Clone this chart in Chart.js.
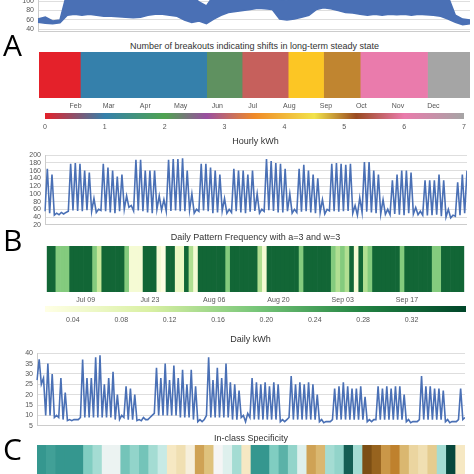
<!DOCTYPE html>
<html><head><meta charset="utf-8">
<script src="https://cdn.jsdelivr.net/npm/chart.js@4.4.0/dist/chart.umd.min.js"></script>
<style>
body{margin:0;width:474px;height:474px;overflow:hidden;background:#fff;position:relative;font-family:"Liberation Sans",Arial,sans-serif}
.b{position:absolute}
.t{position:absolute;font-size:9px;color:#333;text-align:center;white-space:nowrap}
.L{position:absolute;font-family:"Open Sans","Noto Sans",sans-serif;font-size:30px;color:#000}
</style></head><body>
<script>
// ---------- DATA ----------
// Panel A: annual hourly kWh (band lower/upper edges)
const aLow=[55,53,52,54,70,72,70,72,70,68,68,67,66,65,66,70,72,72,70,68,60,55,58,52,62,70,76,78,80,82,85,84,82,62,60,62,66,70,82,86,84,80,76,75,72,70,72,70,72,71,72,70,72,71,70,68,62,55,50,52];
const aHigh=[62,66,58,60,120,124,122,124,123,125,122,124,123,120,124,122,125,123,121,120,110,112,98,90,112,124,125,126,126,128,126,125,124,104,102,106,112,120,126,128,126,124,124,122,124,123,124,122,124,123,124,122,123,120,122,118,110,70,62,60];
const aTicks=[40,60,80,100,120,140];
const months=["Feb","Mar","Apr","May","Jun","Jul","Aug","Sep","Oct","Nov","Dec"];
const monthStart=[31,59,90,120,151,181,212,243,273,304,334];
const breakSegDays=[35,107,30,39,30,31,57,36];
const breakColors=["#e4212a","#3580ab","#5f9160","#c6605c","#fcc624","#c08530","#ea7bac","#a5a5a5"];
const breakCbTicks=[0,1,2,3,4,5,6,7];
// Panel B: hourly kWh daily peaks/troughs, Jul 1 - Sep 30
const bPeak=[165,150,50,52,52,178,180,178,160,155,88,60,178,168,160,145,150,95,70,188,188,160,160,160,95,85,188,190,190,192,160,100,60,178,178,168,160,150,88,60,165,160,160,150,160,100,60,190,185,180,178,165,100,60,165,175,160,150,140,85,60,178,180,178,175,178,70,90,182,182,160,150,85,60,135,150,160,160,155,65,55,135,135,135,150,135,60,45,130,150,160];
const bLow=[55,50,45,46,48,55,57,56,55,58,55,52,57,55,52,50,55,60,65,56,57,55,52,50,60,58,55,56,57,55,55,58,50,55,57,55,50,52,56,50,52,55,52,50,54,56,50,55,58,56,52,52,55,50,52,54,55,52,50,52,48,56,55,54,55,56,50,45,52,54,52,50,48,47,46,48,46,45,50,48,46,45,44,45,46,42,40,38,42,45,50];
const bTicks=[20,40,60,80,100,120,140,160,180,200];
const bDayLabels={8:"Jul 09",22:"Jul 23",36:"Aug 06",50:"Aug 20",64:"Sep 03",78:"Sep 17"};
const bFreq=[0.32,0.32,0.18,0.18,0.18,0.32,0.32,0.32,0.32,0.32,0.18,0.12,0.32,0.32,0.32,0.32,0.32,0.18,0.04,0.04,0.04,0.32,0.32,0.32,0.04,0.02,0.32,0.32,0.06,0.06,0.32,0.14,0.04,0.32,0.32,0.32,0.32,0.32,0.32,0.18,0.32,0.32,0.32,0.32,0.32,0.32,0.14,0.04,0.32,0.32,0.32,0.32,0.32,0.32,0.32,0.18,0.32,0.32,0.32,0.32,0.32,0.32,0.18,0.14,0.18,0.14,0.32,0.04,0.32,0.14,0.18,0.32,0.32,0.32,0.32,0.32,0.32,0.18,0.32,0.32,0.32,0.32,0.32,0.32,0.18,0.18,0.32,0.32,0.32,0.32,0.32];
const bCbTicks=[0.04,0.08,0.12,0.16,0.20,0.24,0.28,0.32];
// Panel C: daily kWh peaks/troughs
const cPeak=[37,28,35,30,10,28,21,8,8,8,37,28,28,38,39,25,28,31,20,10,24,23,20,8,9,8,10,33,28,35,27,34,28,32,25,32,24,8,8,38,27,33,28,35,26,25,22,10,11,28,26,25,26,24,26,25,8,8,29,25,26,25,26,25,20,8,7,7,23,24,26,24,23,23,24,19,8,8,24,23,24,23,24,24,20,8,7,7,29,24,24,23,23,22,8,7,7,23,9];
const cLow=[27,25,10,10,9,9,8,7.5,7.5,8,9,9,9,9,9,9,9,9,8,8,9,8,8,7.5,7.5,8,9,11,10,10,10,10,10,9,9,9,8,7,7,10,9,9,9,9,9,8,8,9,7,9,8,8,8,8,8,8,7,7,9,8,8,8,8,8,8,7,6.5,7,8,8,8,8,8,8,8,8,7,7,8,8,8,8,8,8,8,7,6.5,7,8,8,8,8,8,8,7,6.5,7,8,8];
const cTicks=[5,10,15,20,25,30,35,40];
const cSpec=[0.6,0.55,0.6,0.6,0.6,0.3,0.2,0.02,0.02,0.35,0.25,0.35,0.2,0.1,-0.1,-0.15,-0.05,-0.45,-0.3,0.0,0.05,0.2,-0.1,0.6,0.6,0.3,0.45,0.25,0.05,-0.45,-0.35,0.2,0.25,0.85,0.2,-0.85,-0.75,-0.5,-0.6,-0.35,-0.2,-0.15,-0.25,0.2,0.95,-0.1];

// ---------- helpers ----------
const YLGN=[[0,"#ffffe5"],[0.25,"#d9f0a3"],[0.5,"#78c679"],[0.75,"#238443"],[1,"#004529"]];
const BRBG=[[-1,"#543005"],[-0.6,"#bf812d"],[-0.3,"#dfc27d"],[-0.1,"#f6e8c3"],[0,"#f5f5f5"],[0.1,"#c7eae5"],[0.3,"#80cdc1"],[0.6,"#35978f"],[1,"#003c30"]];
function hex(h){return [1,3,5].map(i=>parseInt(h.substr(i,2),16));}
function cmap(stops,v){
  if(v<=stops[0][0])return stops[0][1];
  for(let i=1;i<stops.length;i++){if(v<=stops[i][0]){const a=stops[i-1],b=stops[i],t=(v-a[0])/(b[0]-a[0]);const x=hex(a[1]),y=hex(b[1]);return `rgb(${x.map((c,k)=>Math.round(c+(y[k]-c)*t)).join(",")})`;}}
  return stops[stops.length-1][1];
}
Chart.defaults.font.family='"Liberation Sans",Arial,sans-serif';
Chart.defaults.font.size=8;Chart.defaults.color='#555';
Chart.defaults.animation=false;
function box(l,t,w,h){const d=document.createElement('div');d.className='b';Object.assign(d.style,{left:l+'px',top:t+'px',width:w+'px',height:h+'px'});const c=document.createElement('canvas');d.appendChild(c);document.body.appendChild(d);return c;}
function text(cls,s,l,t,w){const d=document.createElement('div');d.className=cls;d.textContent=s;d.style.left=l+'px';d.style.top=t+'px';if(w)d.style.width=w+'px';document.body.appendChild(d);}
const yAx=(ymin,ymax,ticks,yw)=>({min:ymin,max:ymax,afterBuildTicks:a=>{a.ticks=ticks.map(v=>({value:v}));},afterFit:a=>{a.width=yw;},ticks:{autoSkip:false,padding:4,font:{size:7}},grid:{color:'#dedede',drawTicks:false},border:{color:'#ccc'}});
const xLine={display:true,ticks:{display:false},grid:{display:false,drawTicks:false},border:{color:'#ccc'}};
const base={responsive:true,maintainAspectRatio:false,layout:{padding:0},plugins:{legend:{display:false},tooltip:{enabled:false}}};
function lineChart(c,data,ymin,ymax,ticks,yw){
  new Chart(c,{type:'line',data:{labels:data.map((_,i)=>i),datasets:[{data,borderColor:'#4a70b5',borderWidth:1.6,pointRadius:0,tension:0}]},
  options:Object.assign({},base,{scales:{x:xLine,y:yAx(ymin,ymax,ticks,yw)}})});
}
function interleave(lo,hi){const r=[];lo.forEach((v,i)=>{r.push(v,hi[i]);});return r;}
const xAx=(extra)=>Object.assign({afterFit:a=>{a.height=16;},grid:{display:false,drawTicks:false},border:{display:false}},extra);

// ---------- Panel A ----------
new Chart(box(0,-26,470,66),{type:'line',data:{labels:aLow.map((_,i)=>i),datasets:[
 {data:aHigh,borderColor:'#4a70b5',borderWidth:1.5,pointRadius:0,tension:0},
 {data:aLow,borderColor:'#4a70b5',backgroundColor:'#4a70b5',fill:'-1',borderWidth:1.5,pointRadius:0,tension:0}]},
 options:Object.assign({},base,{scales:{x:xLine,y:yAx(35,140,aTicks,38)}})});
text('t','Number of breakouts indicating shifts in long-term steady state',39,41,431);
new Chart(box(39,52,431,62),{type:'bar',data:{labels:[''],datasets:breakSegDays.map((d,i)=>({data:[d],backgroundColor:breakColors[i],barPercentage:1,categoryPercentage:1}))},
 options:Object.assign({},base,{indexAxis:'y',
 scales:{x:xAx({stacked:true,min:0,max:365,afterBuildTicks:a=>{a.ticks=monthStart.map(v=>({value:v}));},ticks:{autoSkip:false,maxRotation:0,callback:(v,i)=>months[i],padding:4,font:{size:7}}}),
 y:{stacked:true,display:false}}})});
new Chart(box(39,113,431,22),{type:'bar',data:{labels:[''],datasets:[{data:[7],barPercentage:1,categoryPercentage:1,backgroundColor:ctx=>{const ca=ctx.chart.chartArea;if(!ca)return '#888';const g=ctx.chart.ctx.createLinearGradient(ca.left,0,ca.right,0);[[0,"#e4212a"],[1/7,"#3580ab"],[2/7,"#4fa350"],[2.7/7,"#9a4fa0"],[3.5/7,"#f08a28"],[4.5/7,"#f2e34a"],[5.2/7,"#9a4a20"],[6/7,"#ea7bac"],[1,"#a5a5a5"]].forEach(s=>g.addColorStop(s[0],s[1]));return g;}}]},
 options:Object.assign({},base,{indexAxis:'y',
 scales:{x:xAx({min:0,max:7,afterBuildTicks:a=>{a.ticks=breakCbTicks.map(v=>({value:v}));},ticks:{autoSkip:false,maxRotation:0,padding:4,font:{size:7}}}),y:{display:false}}})});
text('L','A',3,24);

// ---------- Panel B ----------
text('t','Hourly kWh',45,136,421);
lineChart(box(0,147,467,86),interleave(bLow,bPeak),20,200,bTicks,45);
text('t','Daily Pattern Frequency with a=3 and w=3',45,232,421);
new Chart(box(45,246,421,62),{type:'bar',data:{labels:bFreq.map((_,i)=>i),datasets:[{data:bFreq.map(()=>1),backgroundColor:bFreq.map(v=>cmap(YLGN,(v-0.017)/(0.348))),barPercentage:1,categoryPercentage:1}]},
 options:Object.assign({},base,{scales:{x:xAx({ticks:{autoSkip:false,maxRotation:0,callback:(v,i)=>bDayLabels[i]||'',padding:4,font:{size:7}}}),y:{display:false,min:0,max:1}}})});
new Chart(box(45,306,421,22),{type:'bar',data:{labels:[''],datasets:[{data:[0.365],barPercentage:1,categoryPercentage:1,backgroundColor:ctx=>{const ca=ctx.chart.chartArea;if(!ca)return '#888';const g=ctx.chart.ctx.createLinearGradient(ca.left,0,ca.right,0);YLGN.forEach(s=>g.addColorStop(s[0],s[1]));return g;}}]},
 options:Object.assign({},base,{indexAxis:'y',
 scales:{x:xAx({min:0.017,max:0.365,afterBuildTicks:a=>{a.ticks=bCbTicks.map(v=>({value:v}));},ticks:{autoSkip:false,maxRotation:0,callback:v=>v.toFixed(2),padding:4,font:{size:7}}}),y:{display:false}}})});
text('L','B',3,219);

// ---------- Panel C ----------
text('t','Daily kWh',37,334,427);
lineChart(box(0,345,465,89),interleave(cLow,cPeak),5,40,cTicks,37);
text('t','In-class Specificity',37,433,428);
new Chart(box(37,445,428,40),{type:'bar',data:{labels:cSpec.map((_,i)=>i),datasets:[{data:cSpec.map(()=>1),backgroundColor:cSpec.map(v=>cmap(BRBG,v)),barPercentage:1,categoryPercentage:1}]},
 options:Object.assign({},base,{scales:{x:{display:false},y:{display:false,min:0,max:1}}})});
text('L','C',3,428);
</script>
</body></html>
